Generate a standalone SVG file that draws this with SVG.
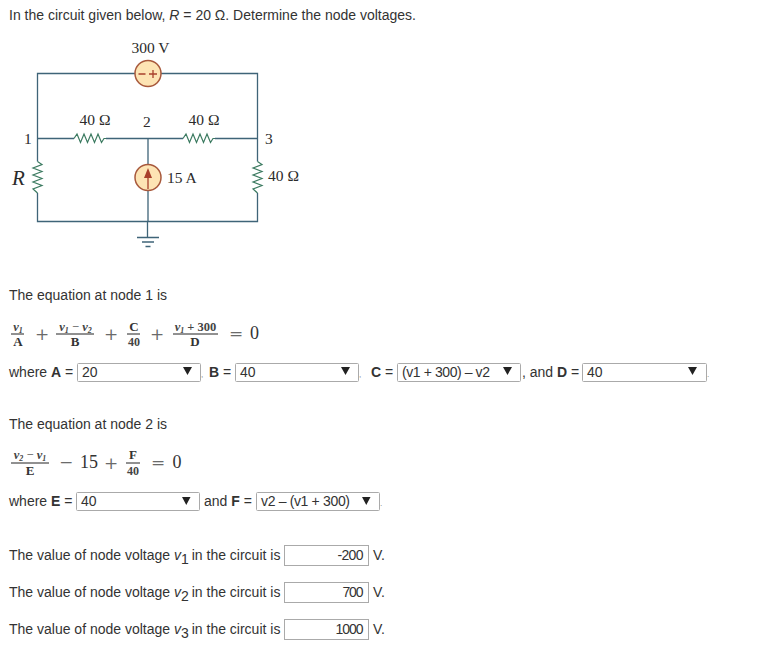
<svg xmlns="http://www.w3.org/2000/svg" width="771" height="656" viewBox="0 0 771 656">
<style>
text{font-family:"Liberation Sans",Arial,sans-serif;font-size:14px;fill:#333}
text.c{font-family:"Liberation Serif","Times New Roman",serif;font-size:15.500px;fill:#2b2b2b}
text.R{font-family:"Liberation Serif","Times New Roman",serif;font-size:21px;font-style:italic;fill:#2b2b2b}
text.val{text-anchor:end}
text.dot{font-size:8px;fill:#777}
.wire{fill:none;stroke:#3f6478;stroke-width:1.3}
.res{fill:none;stroke:#3b7a60;stroke-width:1.2}
.src{fill:#fde4b4;stroke:#a8593c;stroke-width:1.5}
.sym{fill:none;stroke:#a8402c;stroke-width:1.300}
.box{fill:#fff;stroke:#aaa;stroke-width:1}
.tri{fill:#222}
.bar{stroke:#222;stroke-width:1}
text.z{font-family:"Liberation Serif",serif;font-size:18px;fill:#333}
text.op{font-family:"DejaVu Serif","Liberation Serif",serif;font-size:17px;fill:#6a6a6a}
text.num{font-family:"Liberation Serif",serif;font-size:12.500px;font-style:italic;font-weight:bold;fill:#444;text-anchor:middle}
text.den{font-family:"Liberation Serif",serif;font-size:13px;font-weight:bold;fill:#333;text-anchor:middle}
text.dn{font-family:"Liberation Serif",serif;font-size:12px;font-weight:bold;fill:#444;text-anchor:middle}
.b{font-size:8px}
.up{font-style:normal}
</style>
<text x="9" y="20">In the circuit given below, <tspan font-style="italic">R</tspan> = 20 Ω. Determine the node voltages.</text>

<g id="connectors">
<path class="wire" d="M135 73.500H37.500V161.500M37.500 193V221.500H257.500V193M257.500 161.500V73.500H161M37.500 138.500H74M106 138.500H183M215 138.500H257.500M148 138.500V165M148 190V221.500M147.500 221.500V237"/>
<path class="wire" d="M137 237.500H159M142 242H154M145.500 246.500H150.500"/>
</g>
<g id="node-vs">
<circle class="src" cx="148" cy="73.500" r="13"/>
<path class="sym" d="M138.500 74H145.500M149 74H157M153 70V78"/>
<text class="c" x="150.500" y="53" text-anchor="middle">300 V</text>
</g>
<g id="node-is">
<circle class="src" cx="148" cy="177.500" r="13"/>
<path class="sym" d="M148 189V172"/>
<path d="M148 168L152 178H144Z" fill="#a8402c"/>
<text class="c" x="167" y="183">15 A</text>
</g>
<g id="node-r1">
<path class="res" d="M74 138.500L77 134L80.500 142.500L84 134L87.500 142.500L91 134L94.500 142.500L98 134L101.500 142.500L104 138.500H106"/>
<text class="c" x="95" y="125" text-anchor="middle">40 Ω</text>
</g>
<g id="node-r2">
<path class="res" d="M183 138.500L186 134L189.500 142.500L193 134L196.500 142.500L200 134L203.500 142.500L207 134L210.500 142.500L213 138.500H215"/>
<text class="c" x="204" y="125" text-anchor="middle">40 Ω</text>
</g>
<g id="node-R">
<path class="res" d="M37.500 161.500L42 164.500L33 168L42 171.500L33 175L42 178.500L33 182L42 185.500L33 189L37.500 193"/>
<text class="R" x="12" y="185">R</text>
</g>
<g id="node-r3">
<path class="res" d="M257.500 161.500L262 164.500L253 168L262 171.500L253 175L262 178.500L253 182L262 185.500L253 189L257.500 193"/>
<text class="c" x="268" y="181">40 Ω</text>
</g>
<g id="node-labels">
<text class="c" x="24" y="144">1</text>
<text class="c" x="143" y="127">2</text>
<text class="c" x="265" y="144">3</text>
</g>

<text x="9" y="300">The equation at node 1 is</text>
<g id="eq1">
<text class="num" x="18" y="331">v<tspan class="b" dy="2">1</tspan></text><line class="bar" x1="11" y1="334" x2="24" y2="334"/><text class="den" x="18" y="346">A</text>
<text class="op" x="35" y="340">+</text>
<text class="num" x="75.500" y="331">v<tspan class="b" dy="2">1</tspan><tspan dy="-2" class="up" style="font-weight:normal"> − </tspan>v<tspan class="b" dy="2">2</tspan></text><line class="bar" x1="56" y1="334" x2="94" y2="334"/><text class="den" x="75" y="346">B</text>
<text class="op" x="104" y="340">+</text>
<text class="den" x="134" y="331">C</text><line class="bar" x1="127" y1="334" x2="140" y2="334"/><text class="dn" x="134" y="346">40</text>
<text class="op" x="150" y="340">+</text>
<text class="num" x="195.500" y="331">v<tspan class="b" dy="2">1</tspan><tspan dy="-2" class="up"> + 300</tspan></text><line class="bar" x1="173" y1="334" x2="218" y2="334"/><text class="den" x="195" y="346">D</text>
<text class="op" x="229" y="339">=</text>
<text class="z" x="250" y="339">0</text>
</g>
<g id="row1">
<text x="9" y="377">where <tspan font-weight="bold">A</tspan> =</text>
<rect class="box" x="77.500" y="363.500" width="123" height="18" rx="1"/><text x="82" y="377">20</text><path class="tri" d="M183 367H192L187.500 375Z"/>
<text class="dot" x="201" y="377">,</text>
<text x="209" y="377"><tspan font-weight="bold">B</tspan> =</text>
<rect class="box" x="235.500" y="363.500" width="123" height="18" rx="1"/><text x="240" y="377">40</text><path class="tri" d="M341 367H350L345.500 375Z"/>
<text class="dot" x="359" y="377">,</text>
<text x="371" y="377"><tspan font-weight="bold">C</tspan> =</text>
<rect class="box" x="397.500" y="363.500" width="123" height="18" rx="1"/><text x="402" y="377" textLength="88">(v1 + 300) – v2</text><path class="tri" d="M503 367H512L507.500 375Z"/>
<text x="522" y="377">, and <tspan font-weight="bold">D</tspan> =</text>
<rect class="box" x="582.500" y="363.500" width="124" height="18" rx="1"/><text x="587" y="377">40</text><path class="tri" d="M688 367H697L692.500 375Z"/>
<text class="dot" x="707" y="377">.</text>
</g>

<text x="9" y="429">The equation at node 2 is</text>
<g id="eq2">
<text class="num" x="30" y="459">v<tspan class="b" dy="2">2</tspan><tspan dy="-2" class="up" style="font-weight:normal"> − </tspan>v<tspan class="b" dy="2">1</tspan></text><line class="bar" x1="11" y1="463" x2="49" y2="463"/><text class="den" x="30" y="475">E</text>
<text class="op" x="59" y="468">−</text>
<text class="z" x="80" y="468">15</text>
<text class="op" x="104" y="469">+</text>
<text class="den" x="133" y="459">F</text><line class="bar" x1="126" y1="463" x2="140" y2="463"/><text class="dn" x="133" y="475">40</text>
<text class="op" x="151" y="468">=</text>
<text class="z" x="172.500" y="468">0</text>
</g>
<g id="row2">
<text x="9" y="506">where <tspan font-weight="bold">E</tspan> =</text>
<rect class="box" x="76.500" y="492.500" width="123" height="18" rx="1"/><text x="81" y="506">40</text><path class="tri" d="M182 497H190.500L186.250 505Z"/>
<text x="204" y="506">and <tspan font-weight="bold">F</tspan> =</text>
<rect class="box" x="256.500" y="492.500" width="123" height="18" rx="1"/><text x="261" y="506" textLength="89">v2 – (v1 + 300)</text><path class="tri" d="M362 497H370.500L366.250 505Z"/>
<text class="dot" x="380" y="506">.</text>
</g>

<g id="answers">
<text x="9" y="560">The value of node voltage <tspan font-style="italic">v</tspan><tspan dy="4">1</tspan><tspan dy="-4" dx="-1"> in the circuit is</tspan></text>
<rect class="box" x="284.500" y="545.500" width="84" height="20"/><text class="val" x="363.500" y="560" textLength="26">-200</text><text x="373" y="560">V.</text>
<text x="9" y="597">The value of node voltage <tspan font-style="italic">v</tspan><tspan dy="4">2</tspan><tspan dy="-4" dx="-1"> in the circuit is</tspan></text>
<rect class="box" x="284.500" y="582.500" width="84" height="20"/><text class="val" x="363.500" y="597" textLength="21">700</text><text x="373" y="597">V.</text>
<text x="9" y="634">The value of node voltage <tspan font-style="italic">v</tspan><tspan dy="4">3</tspan><tspan dy="-4" dx="-1"> in the circuit is</tspan></text>
<rect class="box" x="284.500" y="619.500" width="84" height="20"/><text class="val" x="363.500" y="634" textLength="28">1000</text><text x="373" y="634">V.</text>
</g>
</svg>
